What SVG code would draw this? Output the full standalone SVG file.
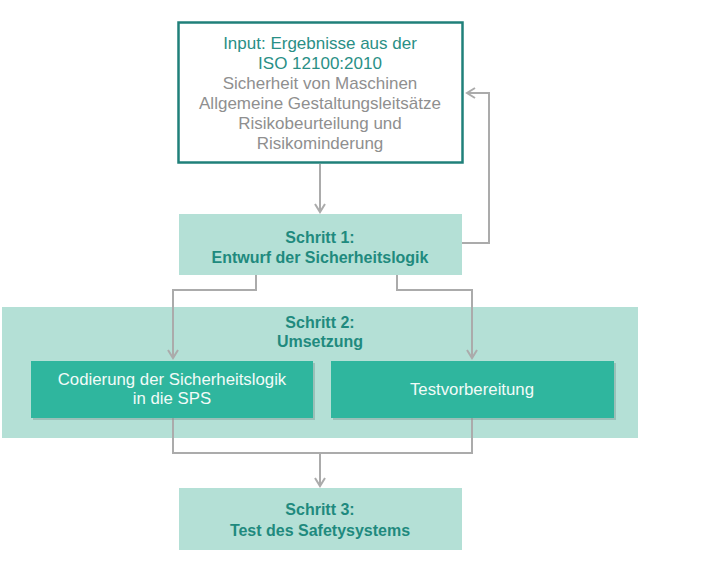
<svg xmlns="http://www.w3.org/2000/svg" width="720" height="572" viewBox="0 0 720 572">
<style>
.t{font-family:"Liberation Sans","DejaVu Sans",sans-serif;text-anchor:middle}
.in{font-size:17px}
.teal{fill:#2a8f86}
.gray{fill:#8f8f8f}
.step{fill:#1f8a7e;font-weight:bold;font-size:16px}
.white{fill:#f2fbf8;font-size:16.8px}
.light{fill:#b4e0d6}
.dark{fill:#2fb69e}
.shadow{fill:#7a9a94;opacity:0.45}
.con{fill:none;stroke:#ababab;stroke-width:2}
</style>
<defs>
<marker id="arr" viewBox="0 0 12 12" refX="10" refY="6" markerWidth="12" markerHeight="12" markerUnits="userSpaceOnUse" orient="auto">
<path d="M2,1 L10,6 L2,11" fill="none" stroke="#ababab" stroke-width="2"/>
</marker>
</defs>
<rect width="720" height="572" fill="#ffffff"/>
<g id="schritt2">
<rect class="light" x="2" y="307" width="636" height="131"/>
<text class="t step" x="320" y="328">Schritt 2:</text>
<text class="t step" x="320" y="347">Umsetzung</text>
</g>
<g id="connectors">
<path class="con" d="M320,164 V212" marker-end="url(#arr)"/>
<path class="con" d="M462,243 H489 V93 H467" marker-end="url(#arr)"/>
<path class="con" d="M256,275 V290 H173 V358" marker-end="url(#arr)"/>
<path class="con" d="M397,275 V290 H472 V358" marker-end="url(#arr)"/>
<path class="con" d="M173,418 V453 H472 V418"/>
<path class="con" d="M320,453 V486" marker-end="url(#arr)"/>
</g>
<g id="input">
<rect x="178.5" y="22.5" width="284" height="140" fill="#ffffff" stroke="#20807a" stroke-width="2.5"/>
<text class="t in teal" x="320" y="49">Input: Ergebnisse aus der</text>
<text class="t in teal" x="320" y="68.5">ISO 12100:2010</text>
<text class="t in gray" x="320" y="88.5">Sicherheit von Maschinen</text>
<text class="t in gray" x="320" y="109">Allgemeine Gestaltungsleitsätze</text>
<text class="t in gray" x="320" y="129">Risikobeurteilung und</text>
<text class="t in gray" x="320" y="149">Risikominderung</text>
</g>
<g id="schritt1">
<rect class="light" x="179" y="214" width="283" height="61"/>
<text class="t step" x="320" y="243">Schritt 1:</text>
<text class="t step" x="320" y="263">Entwurf der Sicherheitslogik</text>
</g>
<g id="codierung">
<rect class="shadow" x="33" y="363" width="282" height="57"/>
<rect class="dark" x="31" y="361" width="282" height="57"/>
<text class="t white" x="172" y="385">Codierung der Sicherheitslogik</text>
<text class="t white" x="172" y="404">in die SPS</text>
</g>
<g id="testvorbereitung">
<rect class="shadow" x="333" y="363" width="283" height="57"/>
<rect class="dark" x="331" y="361" width="283" height="57"/>
<text class="t white" x="472" y="395">Testvorbereitung</text>
</g>
<g id="schritt3">
<rect class="light" x="179" y="488" width="283" height="62"/>
<text class="t step" x="320" y="515">Schritt 3:</text>
<text class="t step" x="320" y="536">Test des Safetysystems</text>
</g>
</svg>
